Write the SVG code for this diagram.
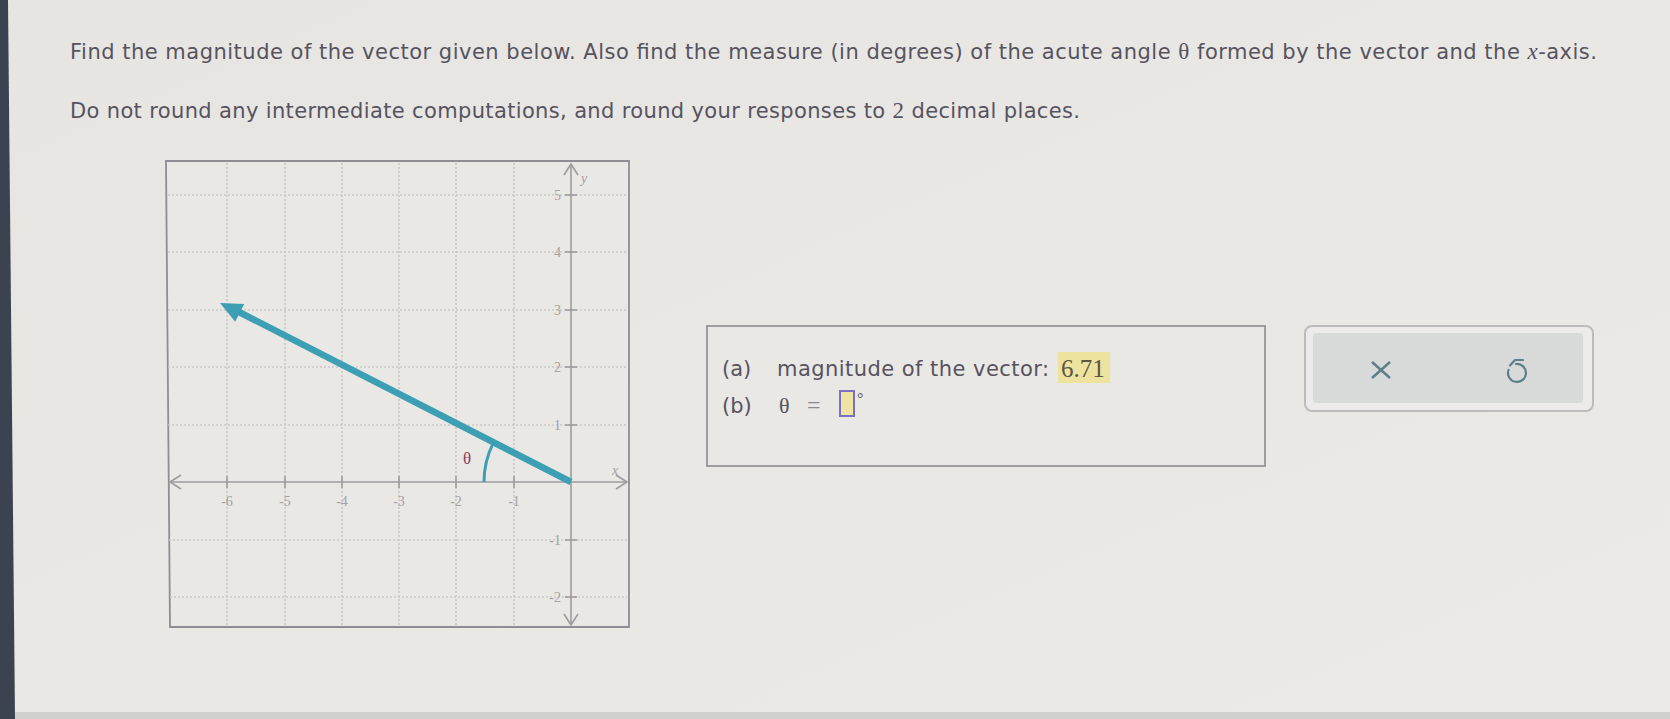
<svg xmlns="http://www.w3.org/2000/svg" width="1670" height="719" viewBox="0 0 1670 719">
<defs>
<style>
.q{font-family:"DejaVu Sans","Verdana",sans-serif;font-size:21px;fill:#56535f}
.grid{stroke:#c9c7c6;stroke-width:1.6;stroke-dasharray:2 2;fill:none}
.axis{stroke:#9d9b9e;stroke-width:1.6;fill:none}
.tl{font-family:"Liberation Serif",serif;font-size:14px;fill:#a3a1a3}
.vec{stroke:#3c9fb3;fill:none}
.ser{font-family:"Liberation Serif","DejaVu Serif",serif}
</style>
<linearGradient id="bg" x1="0" y1="0" x2="1" y2="1">
<stop offset="0" stop-color="#e7e5e2"/>
<stop offset="1" stop-color="#ebeae7"/>
</linearGradient>
</defs>
<rect width="1670" height="719" fill="url(#bg)"/>
<polygon points="0,0 8,0 15,719 0,719" fill="#3b4350"/>
<rect x="15" y="712" width="1655" height="7" fill="#d0d0cf"/>

<g id="question">
<text class="q" x="70" y="59" textLength="1527" lengthAdjust="spacing">Find the magnitude of the vector given below. Also find the measure (in degrees) of the acute angle <tspan class="ser" font-size="23">θ</tspan> formed by the vector and the <tspan class="ser" font-style="italic" font-size="23">x</tspan>-axis.</text>
<text class="q" x="70" y="118" textLength="1010" lengthAdjust="spacing">Do not round any intermediate computations, and round your responses to <tspan class="ser" font-size="23">2</tspan> decimal places.</text>
</g>

<g id="graph">
<polygon points="166,161 629,161 629,627 170,627" fill="#eae8e5" stroke="#8f8d94" stroke-width="1.8"/>
<g class="grid">
<line x1="227" y1="163" x2="227" y2="625"/>
<line x1="285" y1="163" x2="285" y2="625"/>
<line x1="342" y1="163" x2="342" y2="625"/>
<line x1="399" y1="163" x2="399" y2="625"/>
<line x1="456" y1="163" x2="456" y2="625"/>
<line x1="514" y1="163" x2="514" y2="625"/>
<line x1="168" y1="195" x2="627" y2="195"/>
<line x1="168" y1="252" x2="627" y2="252"/>
<line x1="168" y1="310" x2="627" y2="310"/>
<line x1="168" y1="367" x2="627" y2="367"/>
<line x1="168" y1="425" x2="627" y2="425"/>
<line x1="169" y1="540" x2="627" y2="540"/>
<line x1="170" y1="597" x2="627" y2="597"/>
</g>
<g class="axis">
<line x1="170" y1="482" x2="627" y2="482"/>
<polyline points="181,475 170,482 181,489"/>
<polyline points="616,475 627,482 616,489"/>
<line x1="571" y1="164" x2="571" y2="625"/>
<polyline points="564,175 571,164 578,175"/>
<polyline points="564,614 571,625 578,614"/>
<line x1="227" y1="476" x2="227" y2="488"/>
<line x1="285" y1="476" x2="285" y2="488"/>
<line x1="342" y1="476" x2="342" y2="488"/>
<line x1="399" y1="476" x2="399" y2="488"/>
<line x1="456" y1="476" x2="456" y2="488"/>
<line x1="514" y1="476" x2="514" y2="488"/>
<line x1="565" y1="195" x2="577" y2="195"/>
<line x1="565" y1="252" x2="577" y2="252"/>
<line x1="565" y1="310" x2="577" y2="310"/>
<line x1="565" y1="367" x2="577" y2="367"/>
<line x1="565" y1="425" x2="577" y2="425"/>
<line x1="565" y1="540" x2="577" y2="540"/>
<line x1="565" y1="597" x2="577" y2="597"/>
</g>
<g class="tl" text-anchor="middle">
<text x="227" y="506">-6</text>
<text x="285" y="506">-5</text>
<text x="342" y="506">-4</text>
<text x="399" y="506">-3</text>
<text x="456" y="506">-2</text>
<text x="514" y="506">-1</text>
</g>
<g class="tl" text-anchor="end">
<text x="561" y="200">5</text>
<text x="561" y="257">4</text>
<text x="561" y="315">3</text>
<text x="561" y="372">2</text>
<text x="561" y="430">1</text>
<text x="561" y="545">-1</text>
<text x="561" y="602">-2</text>
</g>
<text class="tl" x="581" y="183" font-style="italic" font-size="16" fill="#8a8890">y</text>
<text class="tl" x="612" y="475" font-style="italic" font-size="16" fill="#8a8890">x</text>
</g>

<g id="vector">
<line class="vec" x1="571" y1="482" x2="237" y2="311" stroke-width="6.5"/>
<polygon points="220,303 244.2,303.9 235.2,321.7" fill="#3c9fb3"/>
<path class="vec" d="M484,482 A87,87 0 0 1 493.2,443.1" stroke-width="3"/>
<text class="ser" x="467" y="464" font-size="17" fill="#8a3d5b" text-anchor="middle">θ</text>
</g>

<g id="answers">
<rect x="707" y="326" width="558" height="140" fill="#eae8e5" stroke="#8c8b8e" stroke-width="1.6"/>
<text class="q" x="722" y="376">(a)</text>
<text class="q" x="777" y="376" textLength="272" lengthAdjust="spacing">magnitude of the vector:</text>
<rect x="1058" y="352" width="52" height="31" fill="#ede39e"/>
<text class="ser" x="1061" y="377" font-size="25" fill="#5e5545">6.71</text>
<text class="q" x="722" y="413">(b)</text>
<text class="ser" x="779" y="413" font-size="22" fill="#56535f">θ</text>
<text class="ser" x="807" y="413" font-size="24" fill="#8a8890">=</text>
<rect x="840" y="391" width="14" height="25" fill="#efe4a4" stroke="#7a6fc2" stroke-width="2"/>
<text class="ser" x="857" y="404" font-size="16" fill="#56535f">°</text>
</g>

<g id="buttons">
<rect x="1305" y="326" width="288" height="85" rx="7" fill="#ecebea" stroke="#bcbcbc" stroke-width="2"/>
<rect x="1313" y="333" width="270" height="70" rx="3" fill="#d8dad9"/>
<path d="M1372,362 L1390,378 M1390,362 L1372,378" stroke="#5e7e89" stroke-width="2.5" fill="none"/>
<path d="M1523,360 L1515,360 L1510,365.5" stroke="#5e7e89" stroke-width="2.2" fill="none" stroke-linecap="round" stroke-linejoin="round"/>
<path d="M1516,364 A9,9 0 1 1 1508.5,370" stroke="#5e7e89" stroke-width="2.2" fill="none" stroke-linecap="round"/>
</g>
</svg>
